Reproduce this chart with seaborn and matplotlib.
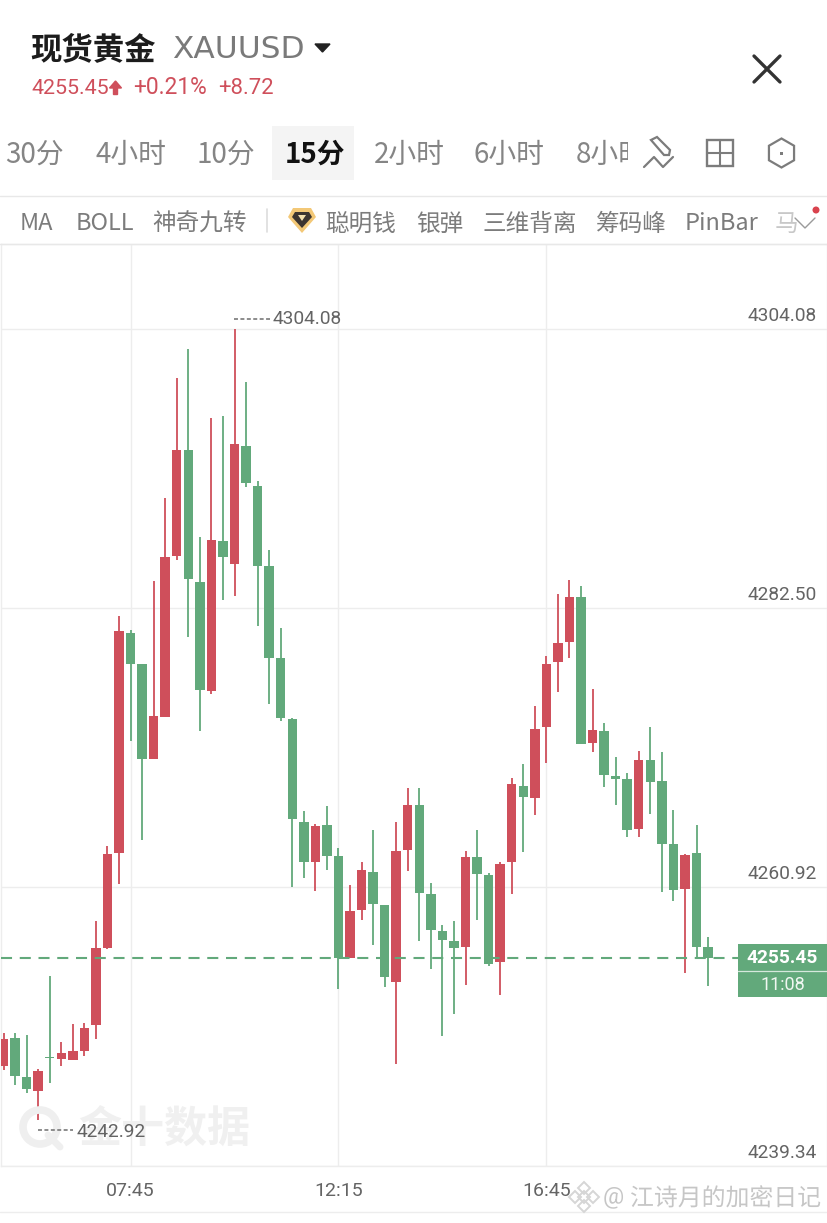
import numpy as np
import pandas as pd
import matplotlib
matplotlib.use("Agg")
import matplotlib.pyplot as plt
import seaborn as sns
from matplotlib.patches import Rectangle, Polygon, Circle
from matplotlib.transforms import ScaledTranslation
import matplotlib.patheffects as pe

# ---- data (15-minute candles) ----
opens = [4247.08, 4249.25, 4246.23, 4245.15, 4247.78, 4247.62, 4247.54, 4248.24, 4250.25, 4256.21,
         4263.55, 4280.57, 4278.17, 4270.82, 4274.07, 4286.52, 4294.72, 4284.51, 4276.08, 4287.68,
         4285.91, 4295.03, 4291.94, 4285.75, 4278.64, 4273.92, 4265.95, 4262.86, 4265.72, 4263.32,
         4255.45, 4259.15, 4262.08, 4259.53, 4253.58, 4263.79, 4267.27, 4260.38, 4257.52, 4256.75,
         4256.28, 4263.24, 4261.85, 4255.12, 4262.86, 4268.74, 4267.81, 4273.30, 4278.33, 4279.87,
         4283.35, 4272.06, 4272.99, 4269.51, 4269.28, 4265.41, 4270.75, 4269.12, 4264.25, 4260.77,
         4263.55, 4256.28]
highs = [4249.63, 4249.63, 4249.48, 4246.85, 4254.04, 4248.94, 4250.33, 4250.41, 4258.29, 4264.10,
         4281.88, 4280.80, 4278.17, 4284.59, 4291.01, 4300.29, 4302.53, 4287.99, 4297.20, 4297.35,
         4304.08, 4299.98, 4292.32, 4286.99, 4280.96, 4273.99, 4266.80, 4265.80, 4267.19, 4263.94,
         4261.08, 4262.86, 4265.33, 4259.53, 4265.95, 4268.58, 4268.58, 4261.23, 4257.99, 4258.29,
         4263.71, 4265.33, 4262.01, 4262.86, 4269.35, 4270.44, 4274.92, 4278.79, 4283.58, 4284.67,
         4284.20, 4276.24, 4273.61, 4270.98, 4269.74, 4271.44, 4273.30, 4271.37, 4266.88, 4263.48,
         4265.72, 4257.06]
lows = [4246.77, 4245.61, 4244.99, 4242.92, 4245.77, 4247.08, 4247.54, 4247.85, 4249.17, 4256.13,
        4261.16, 4272.22, 4264.56, 4270.82, 4274.07, 4286.21, 4280.26, 4272.99, 4275.85, 4283.12,
        4283.43, 4291.86, 4281.11, 4275.08, 4273.76, 4260.92, 4261.62, 4260.61, 4262.24, 4253.04,
        4255.45, 4258.37, 4256.44, 4253.19, 4247.24, 4262.16, 4256.75, 4254.58, 4249.40, 4251.10,
        4253.34, 4258.37, 4254.81, 4252.57, 4260.38, 4263.63, 4266.49, 4270.51, 4276.01, 4278.64,
        4271.98, 4271.37, 4268.66, 4267.27, 4264.79, 4264.79, 4266.57, 4260.54, 4259.84, 4254.27,
        4255.51, 4253.27]
closes = [4249.17, 4246.31, 4245.30, 4246.69, 4247.70, 4248.09, 4248.24, 4250.02, 4256.21, 4263.48,
          4280.72, 4278.17, 4270.82, 4274.15, 4286.45, 4294.72, 4284.74, 4276.16, 4287.76, 4286.45,
          4295.19, 4292.17, 4285.75, 4278.64, 4273.99, 4266.18, 4262.86, 4265.64, 4263.32, 4255.45,
          4259.07, 4262.24, 4259.61, 4253.96, 4263.71, 4267.27, 4260.46, 4257.60, 4256.83, 4256.21,
          4263.24, 4261.93, 4254.97, 4262.70, 4268.89, 4267.88, 4273.14, 4278.17, 4279.80, 4283.35,
          4271.98, 4273.07, 4269.59, 4269.28, 4265.33, 4270.75, 4269.04, 4264.25, 4260.69, 4263.40,
          4256.28, 4255.45]
price_ticks = [4304.08, 4282.50, 4260.92, 4239.34]
time_labels = ["07:45", "12:15", "16:45"]
time_slots = [11, 29, 47]
last_price = 4255.45
countdown = "11:08"
high_label = "4304.08"
low_label = "4242.92"
tabs = ["30分", "4小时", "10分", "15分", "2小时", "6小时", "8小时"]
indicators = ["MA", "BOLL", "神奇九转", "聪明钱", "银弹", "三维背离", "筹码峰", "PinBar"]

RED = "#CF4F5B"
GREEN = "#62A97B"
GRID = "#EDEDED"
GRAY = "#7C7C7C"
LABEL = "#646464"

W, H = 828, 1223
sns.set_theme(style="white")
CJK = ["Noto Sans CJK SC", "DejaVu Sans"]
NUM = ["Roboto", "Noto Sans CJK SC", "DejaVu Sans"]
plt.rcParams["font.family"] = NUM

df = pd.DataFrame({"slot": np.arange(len(opens)), "open": opens, "high": highs, "low": lows, "close": closes})
df["up"] = df["close"] >= df["open"]
df["top"] = df[["open", "close"]].max(axis=1)
df["bottom"] = df[["open", "close"]].min(axis=1)
df["size"] = df["top"] - df["bottom"]

fig = plt.figure(figsize=(W / 100, H / 100), dpi=100, facecolor="white")

# chart axes occupy pixel rows 244..1166, columns 1..827
ax = fig.add_axes([1 / W, 1 - 1166 / H, 826 / W, (1166 - 244) / H])
px_per_slot = 11.55
px_per_unit = 12.93
x0 = (1 - 3.5) / px_per_slot
x1 = (827 - 3.5) / px_per_slot

for up, colour in ((True, RED), (False, GREEN)):
    sub = df[df["up"] == up]
    long = pd.concat([sub[["slot", "high"]].rename(columns={"high": "price"}),
                      sub[["slot", "low"]].rename(columns={"low": "price"})])
    sns.lineplot(data=long, x="slot", y="price", units="slot", estimator=None, color=colour,
                 linewidth=1.3, ax=ax, legend=False, zorder=3, solid_capstyle="butt")
    sns.barplot(data=sub, x="slot", y="size", bottom=sub["bottom"].to_numpy(), native_scale=True,
                color=colour, saturation=1, width=0.82, errorbar=None, ax=ax, zorder=4,
                linewidth=0, legend=False)

ax.set_xlim(x0, x1)
ax.set_ylim(price_ticks[-1], price_ticks[0] + 85 / px_per_unit)
ax.axhline(last_price, color=GREEN, lw=1.5, dashes=(5.3, 3.7), zorder=5)

ax.set_xlabel("")
ax.set_ylabel("")
ax.set_xticks(time_slots)
ax.set_xticklabels(time_labels)
ax.set_yticks(price_ticks)
ax.set_yticklabels([f"{p:.2f}" for p in price_ticks])
ax.yaxis.tick_right()
ax.grid(True, color=GRID, lw=1)
ax.set_axisbelow(True)
ax.tick_params(axis="x", length=0, pad=11.5, labelsize=14, labelcolor=LABEL)
ax.tick_params(axis="y", length=0, pad=-57, labelsize=13.8, labelcolor=LABEL, right=False)
off = ScaledTranslation(0, 4 / 100, fig.dpi_scale_trans)
for lab in ax.get_yticklabels():
    lab.set_ha("left")
    lab.set_va("bottom")
    lab.set_transform(lab.get_transform() + off)
for s in ax.spines.values():
    s.set_color(GRID)
    s.set_linewidth(1)

# watermark behind the candles
ax.annotate("金十数据", xy=(0, 0), xycoords="figure pixels", xytext=(78, H - 1130), textcoords="figure pixels",
            fontsize=31, fontweight="bold", color="#F0F0F0", family=CJK, va="center", ha="left", zorder=1)

# pixel-coordinate overlay for the app interface around the chart
ui = fig.add_axes([0, 0, 1, 1], facecolor="none")
ui.set_xlim(0, W)
ui.set_ylim(H, 0)
ui.axis("off")


def txt(x, y, s, size, color=GRAY, ha="left", weight="normal", fam=CJK, **kw):
    return ui.text(x, y, s, fontsize=size, color=color, ha=ha, va="center", fontweight=weight, family=fam, **kw)


# header
txt(30, 50, "现货黄金", 22.6, "#1C1C1C", weight="bold")
txt(172, 49, "XAUUSD", 22.5, "#7A7A7A", fam=["DejaVu Sans"])
ui.add_patch(Polygon([(315, 44), (330, 44), (322.5, 52)], color="#222222"))
txt(31, 88, "4255.45", 15.4, RED, fam=NUM)
ui.add_patch(Polygon([(109.5, 88), (121.5, 88), (115.5, 81)], color=RED))
ui.add_patch(Rectangle((113.5, 87), 4, 7, color=RED))
txt(133, 88, "+0.21%", 16.4, RED, fam=NUM)
txt(218, 88, "+8.72", 15.8, RED, fam=NUM)
ui.plot([754, 780], [56, 82], color="#333333", lw=2.4, solid_capstyle="round")
ui.plot([780, 754], [56, 82], color="#333333", lw=2.4, solid_capstyle="round")

# period tabs
ui.add_patch(Rectangle((272, 126), 82, 54, color="#F4F4F4", lw=0))
tab_x = [5, 96, 197, 285, 374, 474, 576]
for x, t in zip(tab_x, tabs):
    active = t == "15分"
    tt = txt(x, 155, t, 20, "#111111" if active else "#858585", weight="bold" if active else "normal")
tt.set_clip_on(True)
tt.set_clip_path(Rectangle((576, 130), 52, 50, transform=ui.transData))
ui.add_patch(Rectangle((0, 130), 8, 46, color="white", alpha=0.55, lw=0))
ui.add_patch(Rectangle((612, 130), 16, 46, color="white", alpha=0.45, lw=0))
# drawing tool icon
ui.add_patch(Polygon([(651, 140), (657, 137), (670, 150), (669, 155), (664, 155)], fill=False, ec=GRAY, lw=1.6))
ui.plot([644, 654, 663, 673], [167, 157, 167, 157], color=GRAY, lw=1.6)
# layout icon
ui.add_patch(Rectangle((707, 140), 26, 26, fill=False, ec=GRAY, lw=1.7))
ui.plot([720, 720], [140, 166], color=GRAY, lw=1.5)
ui.plot([707, 733], [153, 153], color=GRAY, lw=1.5)
# hexagon icon
ang = np.deg2rad(np.arange(30, 390, 60))
ui.add_patch(Polygon(np.c_[781.5 + 14.5 * np.cos(ang), 153 + 14.5 * np.sin(ang)], fill=False, ec=GRAY, lw=1.6))
ui.add_patch(Rectangle((780, 151.5), 3.2, 3.2, color=GRAY, lw=0))

ui.plot([0, W], [196, 196], color="#E8E8E8", lw=1)
ui.plot([0, W], [244, 244], color="#E8E8E8", lw=1)
ui.plot([0, W], [1212, 1212], color="#EDEDED", lw=1)

# indicators row
ind_x = [20, 76, 152, 325, 416, 483, 596, 685]
for x, t in zip(ind_x, indicators):
    txt(x, 224, t, 17, GRAY)
ui.plot([267, 267], [209, 232], color="#DDDDDD", lw=1.2)
ui.add_patch(Polygon([(293, 208), (311, 208), (316, 217), (302, 233), (288, 217)], color="#F3C877", lw=0))
ui.add_patch(Polygon([(295, 212), (309, 212), (312, 217), (302, 228), (292, 217)], color="#3C3531", lw=0))
ui.add_patch(Polygon([(298, 215), (306, 215), (302, 221)], color="#F3E0B0", lw=0))
txt(775, 224, "马", 17, "#C8C8C8")
ui.plot([795, 805, 815], [218, 228, 218], color="#9A9A9A", lw=1)
ui.add_patch(Circle((816, 210), 3.5, color="#D9434E", lw=0))

# extreme price markers
hi_slot = int(np.argmax(highs))
lo_slot = int(np.argmin(lows))
ax.annotate(high_label, xy=(hi_slot, highs[hi_slot]), xytext=(273, H - 319), textcoords="figure pixels",
            fontsize=13.8, color=LABEL, va="center", ha="left", zorder=6)
ax.annotate(low_label, xy=(lo_slot, lows[lo_slot]), xytext=(77, H - 1132), textcoords="figure pixels",
            fontsize=13.8, color=LABEL, va="center", ha="left", zorder=6)
ui.plot([234, 270], [319, 319], color="#6E6E6E", lw=1.1, dashes=(2.6, 1.6))
ui.plot([38, 73], [1130, 1130], color="#6E6E6E", lw=1.1, dashes=(2.6, 1.6))

# watermark logo
ui.add_patch(Circle((40, 1127), 17, fill=False, ec="#EFEFEF", lw=5.5, zorder=0.5))
ui.plot([48, 60], [1135, 1147], color="#EFEFEF", lw=5, zorder=0.5)

# last-price tag
ui.add_patch(Rectangle((738, 944), 89, 53, color=GREEN, lw=0, zorder=6))
ui.plot([738, 827], [971, 971], color="#D5E8DC", lw=0.9, zorder=7)
ui.text(782.5, 958, f"{last_price:.2f}", fontsize=13.8, color="white", ha="center", va="center",
        fontweight="bold", family=NUM, zorder=8)
ui.text(782.5, 985, countdown, fontsize=13, color="#F0F7F2", ha="center", va="center", family=NUM, zorder=8)

# bottom-right source watermark
halo = [pe.withStroke(linewidth=2.5, foreground="white")]
mark = "#C6C6C6"
for (cx, cy) in ((584, 1188), (575, 1197), (593, 1197), (584, 1206), (584, 1197)):
    ui.add_patch(Polygon([(cx, cy - 6), (cx + 6, cy), (cx, cy + 6), (cx - 6, cy)], fill=False, ec="#D6D6D6", lw=1.4, zorder=9))
txt(603, 1197, "@", 17, mark, fam=["Roboto"], path_effects=halo, zorder=9)
txt(630, 1199, "江诗月的加密日记", 17.2, mark, path_effects=halo, zorder=9)

fig.savefig("out.png", dpi=100, facecolor="white")
